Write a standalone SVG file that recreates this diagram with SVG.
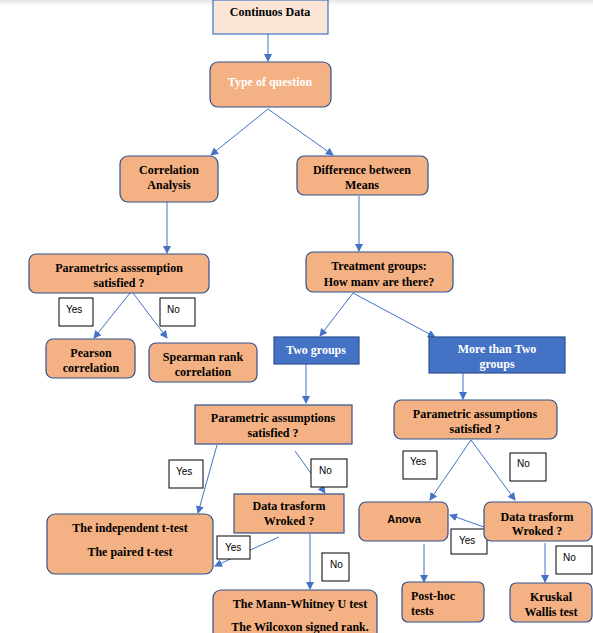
<svg xmlns="http://www.w3.org/2000/svg" width="593" height="633" viewBox="0 0 593 633">
<style>
.n{fill:#F4B183;stroke:#2F528F;stroke-width:1.2}
.b{fill:#4472C4;stroke:#2F528F;stroke-width:1.2}
.t{font-family:"Liberation Serif",serif;font-weight:bold;font-size:12px;fill:#000;text-anchor:middle}
.s{text-anchor:start}
.w{fill:#fff}
.lb{fill:#fff;stroke:#000;stroke-width:1}
.lt{font-family:"Liberation Sans",sans-serif;font-size:10px;fill:#000}
.c{stroke:#4472C4;stroke-width:1;fill:none;marker-end:url(#a)}
</style>
<defs>
<marker id="a" markerWidth="8" markerHeight="8" refX="7" refY="4" orient="auto" markerUnits="userSpaceOnUse">
<path d="M0,0 L8,4 L0,8 z" fill="#4472C4"/>
</marker>
<linearGradient id="sh" x1="0" y1="0" x2="0" y2="1">
<stop offset="0" stop-color="#e6e6e6"/>
<stop offset="1" stop-color="#ffffff"/>
</linearGradient>
</defs>
<rect width="593" height="633" fill="#fff"/>
<rect width="593" height="6" fill="url(#sh)"/>

<g id="connectors">
<line class="c" x1="268" y1="34" x2="268" y2="61"/>
<line class="c" x1="268" y1="109" x2="211" y2="155"/>
<line class="c" x1="268" y1="109" x2="333" y2="155"/>
<line class="c" x1="167" y1="202" x2="167" y2="253"/>
<line class="c" x1="359" y1="196" x2="359" y2="251"/>
<line class="c" x1="130" y1="293" x2="94" y2="338"/>
<line class="c" x1="133" y1="293" x2="167" y2="338"/>
<line class="c" x1="353" y1="293" x2="320" y2="336"/>
<line class="c" x1="353" y1="293" x2="435" y2="337"/>
<line class="c" x1="306" y1="364" x2="306" y2="403"/>
<line class="c" x1="463" y1="373" x2="463" y2="399"/>
<line class="c" x1="217" y1="445" x2="198" y2="513"/>
<line class="c" x1="295" y1="451" x2="325" y2="493"/>
<line class="c" x1="279" y1="537" x2="215" y2="566"/>
<line class="c" x1="310" y1="534" x2="310" y2="589"/>
<line class="c" x1="471" y1="440" x2="430" y2="500"/>
<line class="c" x1="471" y1="440" x2="515" y2="500"/>
<line class="c" x1="484" y1="527" x2="450" y2="515"/>
<line class="c" x1="424" y1="544" x2="424" y2="582"/>
<line class="c" x1="545" y1="543" x2="545" y2="582"/>
</g>

<g id="labels">
<rect class="lb" x="59" y="298" width="34" height="28"/><text class="lt" x="66" y="313">Yes</text>
<rect class="lb" x="160" y="298" width="35" height="28"/><text class="lt" x="167" y="313">No</text>
<rect class="lb" x="169" y="460" width="34" height="28"/><text class="lt" x="176" y="475">Yes</text>
<rect class="lb" x="311" y="459" width="36" height="28"/><text class="lt" x="319" y="474">No</text>
<rect class="lb" x="217" y="536" width="33" height="23"/><text class="lt" x="225" y="551">Yes</text>
<rect class="lb" x="322" y="553" width="27" height="28"/><text class="lt" x="330" y="568">No</text>
<rect class="lb" x="403" y="451" width="34" height="28"/><text class="lt" x="410" y="465">Yes</text>
<rect class="lb" x="510" y="453" width="36" height="28"/><text class="lt" x="517" y="467">No</text>
<rect class="lb" x="451" y="529" width="36" height="25"/><text class="lt" x="459" y="544">Yes</text>
<rect class="lb" x="556" y="546" width="36" height="28"/><text class="lt" x="563" y="561">No</text>
</g>

<g id="n1"><rect x="213" y="0" width="115" height="34" fill="#FBE5D6" stroke="#4472C4" stroke-width="1.2"/><text class="t" x="270" y="16">Continuos Data</text></g>
<g id="n2"><rect class="n" x="210" y="62" width="121" height="45" rx="8"/><text class="t w" x="270" y="86">Type of question</text></g>
<g id="n3"><rect class="n" x="120" y="156" width="98" height="46" rx="8"/><text class="t" x="169" y="174">Correlation</text><text class="t" x="169" y="189">Analysis</text></g>
<g id="n4"><rect class="n" x="297" y="156" width="131" height="39" rx="7"/><text class="t" x="362" y="174">Difference between</text><text class="t" x="362" y="189">Means</text></g>
<g id="n5"><rect class="n" x="29" y="254" width="180" height="39" rx="7"/><text class="t" x="119" y="272">Parametrics asssemption</text><text class="t" x="119" y="287">satisfied ?</text></g>
<g id="n6"><rect class="n" x="306" y="252" width="147" height="40" rx="7"/><text class="t" x="379" y="270">Treatment groups:</text><text class="t" x="379" y="286">How manv are there?</text></g>
<g id="n7"><rect class="n" x="46" y="339" width="89" height="39" rx="7"/><text class="t" x="91" y="357">Pearson</text><text class="t" x="91" y="372">correlation</text></g>
<g id="n8"><rect class="n" x="149" y="343" width="108" height="39" rx="7"/><text class="t" x="203" y="361">Spearman rank</text><text class="t" x="203" y="376">correlation</text></g>
<g id="n9"><rect class="b" x="274" y="337" width="85" height="27"/><text class="t w" x="316" y="354">Two groups</text></g>
<g id="n10"><rect class="b" x="429" y="337" width="136" height="36"/><text class="t w" x="497" y="353">More than Two</text><text class="t w" x="497" y="368">groups</text></g>
<g id="n11"><rect class="n" x="195" y="405" width="157" height="39"/><text class="t" x="273" y="422">Parametric assumptions</text><text class="t" x="273" y="437">satisfied ?</text></g>
<g id="n12"><rect class="n" x="394" y="400" width="163" height="39" rx="7"/><text class="t" x="475" y="418">Parametric assumptions</text><text class="t" x="475" y="433">satisfied ?</text></g>
<g id="n13"><rect class="n" x="234" y="494" width="110" height="39"/><text class="t" x="289" y="510">Data trasform</text><text class="t" x="289" y="525">Wroked ?</text></g>
<g id="n14"><rect class="n" x="47" y="514" width="166" height="60" rx="8"/><text class="t" x="130" y="532">The independent t-test</text><text class="t" x="130" y="556">The paired t-test</text></g>
<g id="n15"><rect class="n" x="213" y="590" width="164" height="50" rx="8"/><text class="t" x="300" y="608">The Mann-Whitney U test</text><text class="t" x="300" y="631">The Wilcoxon signed rank.</text></g>
<g id="n16"><rect class="n" x="359" y="502" width="89" height="39" rx="7"/><text x="404" y="523" font-family="Liberation Sans,sans-serif" font-weight="bold" font-size="11" text-anchor="middle" fill="#000">Anova</text></g>
<g id="n17"><rect class="n" x="484" y="502" width="108" height="39" rx="7"/><text class="t" x="537" y="521">Data trasform</text><text class="t" x="537" y="535">Wroked ?</text></g>
<g id="n18"><rect class="n" x="402" y="582" width="82" height="40" rx="6"/><text class="t s" x="411" y="600">Post-hoc</text><text class="t s" x="411" y="615">tests</text></g>
<g id="n19"><rect class="n" x="510" y="583" width="82" height="39" rx="6"/><text class="t" x="551" y="601">Kruskal</text><text class="t" x="551" y="616">Wallis test</text></g>
</svg>
